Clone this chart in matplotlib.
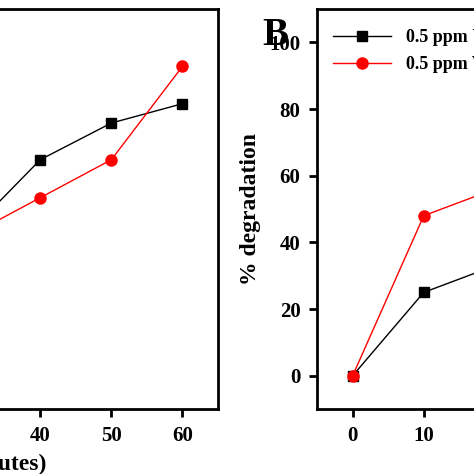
import matplotlib
matplotlib.use("Agg")
import matplotlib.pyplot as plt

plt.rcParams['font.family'] = ['Liberation Serif', 'DejaVu Serif']
plt.rcParams['font.weight'] = 'bold'

time = [0, 10, 20, 30, 40, 50, 60]
a_uv = [0, 20, 33, 43, 64.8, 75.8, 81.6]
a_vis = [0, 25, 35, 42, 53.4, 64.8, 92.8]
b_time = [0, 10, 20, 30, 40, 50, 60]
b_uv = [0, 25, 33, 45, 55, 65, 75]
b_vis = [0, 48, 56, 65, 72, 80, 88]

fig = plt.figure(figsize=(4.74, 4.74), dpi=100)
axA = fig.add_axes([-0.59, 0.137, 1.05, 0.844])
axB = fig.add_axes([0.669, 0.137, 1.05, 0.844])

for ax, x, uv, vis in [(axA, time, a_uv, a_vis), (axB, b_time, b_uv, b_vis)]:
    ax.plot(x, uv, '-s', color='black', lw=1, ms=7, label='0.5 ppm UV')
    ax.plot(x, vis, '-o', color='red', lw=1, ms=8, mfc='red', mec='red',
            label='0.5 ppm Visible')
    ax.set_xlim(-5, 65)
    ax.set_ylim(-10, 110)
    ax.set_xticks(range(0, 61, 10))
    ax.set_yticks(range(0, 101, 20))
    for s in ax.spines.values():
        s.set_linewidth(2)
    ax.tick_params(direction='out', width=2, length=6, labelsize=15, pad=6)
    for lab in ax.get_xticklabels() + ax.get_yticklabels():
        lab.set_fontweight('bold')
    ax.set_xlabel('Time (minutes)', fontsize=17, fontweight='bold', labelpad=6)
    ax.set_ylabel('% degradation', fontsize=17, fontweight='bold', labelpad=6)

axB.legend(loc='upper left', frameon=False, handlelength=3.2,
           prop={'weight': 'bold', 'size': 13}, bbox_to_anchor=(0.0, 0.99),
           labelspacing=0.55)
fig.text(0.553, 0.905, 'B', fontsize=28, fontweight='bold')

fig.savefig('out.png', dpi=100)
